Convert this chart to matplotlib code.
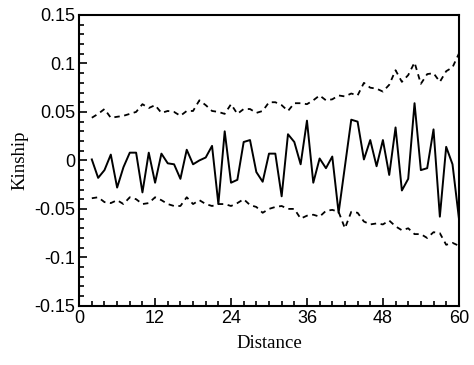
import matplotlib
matplotlib.use("Agg")
import matplotlib.pyplot as plt
from matplotlib.ticker import MultipleLocator, FuncFormatter
import numpy as np

# distance classes
distance = list(range(2, 61))

# observed kinship per distance class
kinship = [0.001, -0.018, -0.010, 0.006, -0.028, -0.007, 0.008, 0.008, -0.033, 0.008,
           -0.023, 0.007, -0.003, -0.004, -0.019, 0.011, -0.004, 0.000, 0.003, 0.015,
           -0.045, 0.030, -0.023, -0.020, 0.019, 0.021, -0.012, -0.022, 0.007, 0.007,
           -0.037, 0.027, 0.019, -0.004, 0.041, -0.023, 0.002, -0.008, 0.004, -0.054,
           -0.006, 0.042, 0.040, 0.001, 0.021, -0.006, 0.021, -0.015, 0.034, -0.031,
           -0.019, 0.059, -0.010, -0.008, 0.032, -0.058, 0.014, -0.004, -0.059]

# confidence envelope
upper = [0.044, 0.048, 0.053, 0.044, 0.045, 0.046, 0.048, 0.050, 0.058, 0.054,
         0.057, 0.049, 0.051, 0.050, 0.046, 0.051, 0.051, 0.062, 0.057, 0.051,
         0.050, 0.048, 0.058, 0.048, 0.053, 0.053, 0.049, 0.051, 0.060, 0.060,
         0.057, 0.051, 0.059, 0.059, 0.058, 0.062, 0.067, 0.062, 0.063, 0.067,
         0.066, 0.069, 0.067, 0.080, 0.075, 0.074, 0.071, 0.078, 0.093, 0.081,
         0.088, 0.101, 0.079, 0.089, 0.090, 0.081, 0.092, 0.096, 0.110]
lower = [-0.039, -0.038, -0.043, -0.044, -0.041, -0.045, -0.038, -0.040, -0.045, -0.044,
         -0.038, -0.041, -0.045, -0.047, -0.047, -0.038, -0.045, -0.041, -0.045, -0.047,
         -0.045, -0.045, -0.047, -0.044, -0.040, -0.046, -0.048, -0.054, -0.050, -0.048,
         -0.047, -0.050, -0.050, -0.060, -0.057, -0.056, -0.058, -0.052, -0.051, -0.053,
         -0.070, -0.053, -0.054, -0.063, -0.066, -0.065, -0.066, -0.062, -0.068, -0.072,
         -0.070, -0.076, -0.076, -0.080, -0.074, -0.075, -0.087, -0.085, -0.088]

fig = plt.figure(figsize=(4.74, 3.65), dpi=100)
ax = fig.add_axes([0.167, 0.162, 0.801, 0.797])

ax.plot(distance, kinship, color="black", lw=1.4)
ax.plot(distance, upper, color="black", lw=1.3, dashes=(3, 2.5))
ax.plot(distance, lower, color="black", lw=1.3, dashes=(3, 2.5))

ax.set_xlim(0, 60)
ax.set_ylim(-0.15, 0.15)
ax.xaxis.set_major_locator(MultipleLocator(12))
ax.xaxis.set_minor_locator(MultipleLocator(2))
ax.yaxis.set_major_locator(MultipleLocator(0.05))
ax.yaxis.set_minor_locator(MultipleLocator(0.01))


def fmt(v, pos):
    s = f"{v:.2f}".rstrip("0").rstrip(".")
    return "0" if s in ("-0", "0") else s


ax.yaxis.set_major_formatter(FuncFormatter(fmt))

ax.tick_params(which="both", direction="in", top=False, right=False,
               width=1.2, labelsize=13, colors="black")
ax.tick_params(which="major", length=6, pad=3)
ax.tick_params(which="minor", length=3.5)
for lab in ax.get_xticklabels() + ax.get_yticklabels():
    lab.set_family("Liberation Sans")
for sp in ax.spines.values():
    sp.set_linewidth(1.5)

ax.set_xlabel("Distance", family="Liberation Serif", fontsize=13.5, labelpad=6)
ax.set_ylabel("Kinship", family="Liberation Serif", fontsize=13.5, labelpad=4)

fig.savefig("out.png", dpi=100)
